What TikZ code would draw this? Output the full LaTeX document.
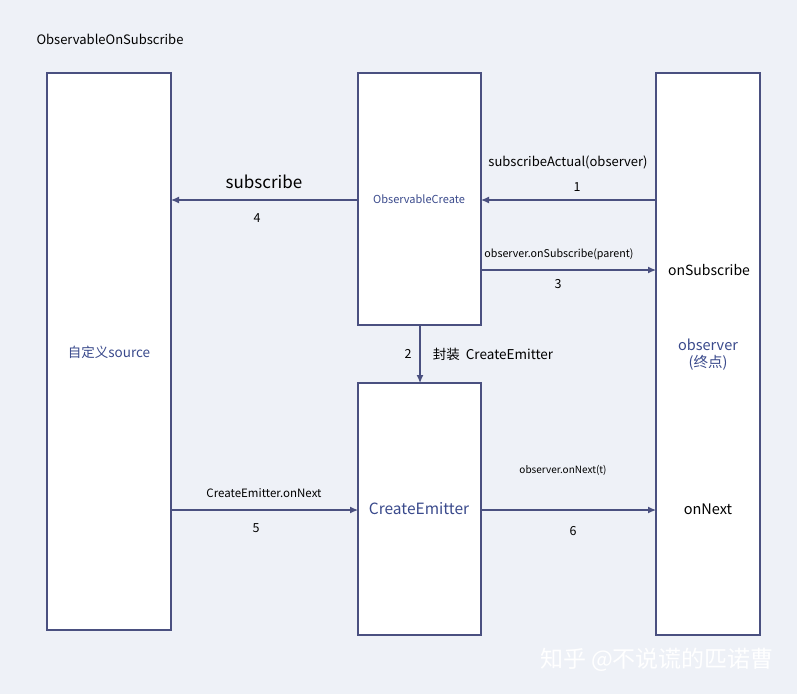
\documentclass[tikz,border=0pt]{standalone}
\usepackage{fontspec}
\setmainfont{Noto Sans CJK SC}
\usetikzlibrary{arrows.meta}
\definecolor{bgc}{HTML}{EEF1F7}
\definecolor{linec}{HTML}{4A5080}
\definecolor{txtb}{HTML}{3A4A8C}
\begin{document}
\begin{tikzpicture}[x=1pt,y=-1pt,
  box/.style={draw=linec,line width=1.2pt,fill=white},
  conn/.style={draw=linec,line width=1.2pt,-{Latex[length=8pt,width=7pt]}},
  lbl/.style={font=\fontsize{12.5}{15}\selectfont,inner sep=0pt},
  big/.style={font=\fontsize{14.5}{17}\selectfont,inner sep=0pt}]
\fill[bgc] (0,0) rectangle (797,694);
%boxes
\draw[box] (47,73) rectangle (171,630);
\draw[box] (358,73) rectangle (481,325);
\draw[box] (358,383) rectangle (481,635);
\draw[box] (656,73) rectangle (760,635);
\coordinate (srcA) at (171,200);
\coordinate (srcB) at (171,510);
\coordinate (ocL) at (358,200);
\coordinate (ocR) at (481,200);
\coordinate (ocR2) at (481,270);
\coordinate (ocB) at (420,325);
\coordinate (ceT) at (420,383);
\coordinate (ceL) at (358,510);
\coordinate (ceR) at (481,510);
\coordinate (obA) at (656,200);
\coordinate (obB) at (656,270);
\coordinate (obC) at (656,510);
%texts
\node[lbl,font=\fontsize{13}{15}\selectfont] at (110,39) {ObservableOnSubscribe};
\node[big,text=txtb,font=\fontsize{13.5}{16}\selectfont] at (109,352) {自定义source};
\node[lbl,text=txtb,font=\fontsize{11}{13}\selectfont] at (419,199) {ObservableCreate};
\node[big,text=txtb,font=\fontsize{15.5}{18}\selectfont] at (419,509) {CreateEmitter};
\node[big,text=txtb,align=center] at (708,355) {observer\\(终点)};
\node[big,font=\fontsize{14}{17}\selectfont] at (709,270) {onSubscribe};
\node[big] at (708,509) {onNext};
%connectors
\draw[conn] (obA) -- (ocR);
\draw[conn] (ocL) -- (srcA);
\draw[conn] (ocR2) -- (obB);
\draw[conn] (ocB) -- (ceT);
\draw[conn] (srcB) -- (ceL);
\draw[conn] (ceR) -- (obC);
\node[lbl,font=\fontsize{13}{15}\selectfont] at (568,162) {subscribeActual(observer)};
\node[lbl] at (577,187) {1};
\node[big,font=\fontsize{17}{20}\selectfont] at (264,182) {subscribe};
\node[lbl] at (257,218) {4};
\node[lbl,font=\fontsize{10.7}{13}\selectfont] at (559,254) {observer.onSubscribe(parent)};
\node[lbl] at (558,284) {3};
\node[lbl] at (408,354) {2};
\node[lbl,font=\fontsize{13.5}{16}\selectfont] at (493,354) {封装\ \ CreateEmitter};
\node[lbl,font=\fontsize{10}{12}\selectfont] at (563,470) {observer.onNext(t)};
\node[lbl] at (573,531) {6};
\node[lbl,font=\fontsize{11.5}{14}\selectfont] at (264,493) {CreateEmitter.onNext};
\node[lbl] at (256,528) {5};
\node[text=white,font=\fontsize{23}{26}\selectfont] at (657,660) {知乎 @不说谎的匹诺曹};
\end{tikzpicture}
\end{document}
